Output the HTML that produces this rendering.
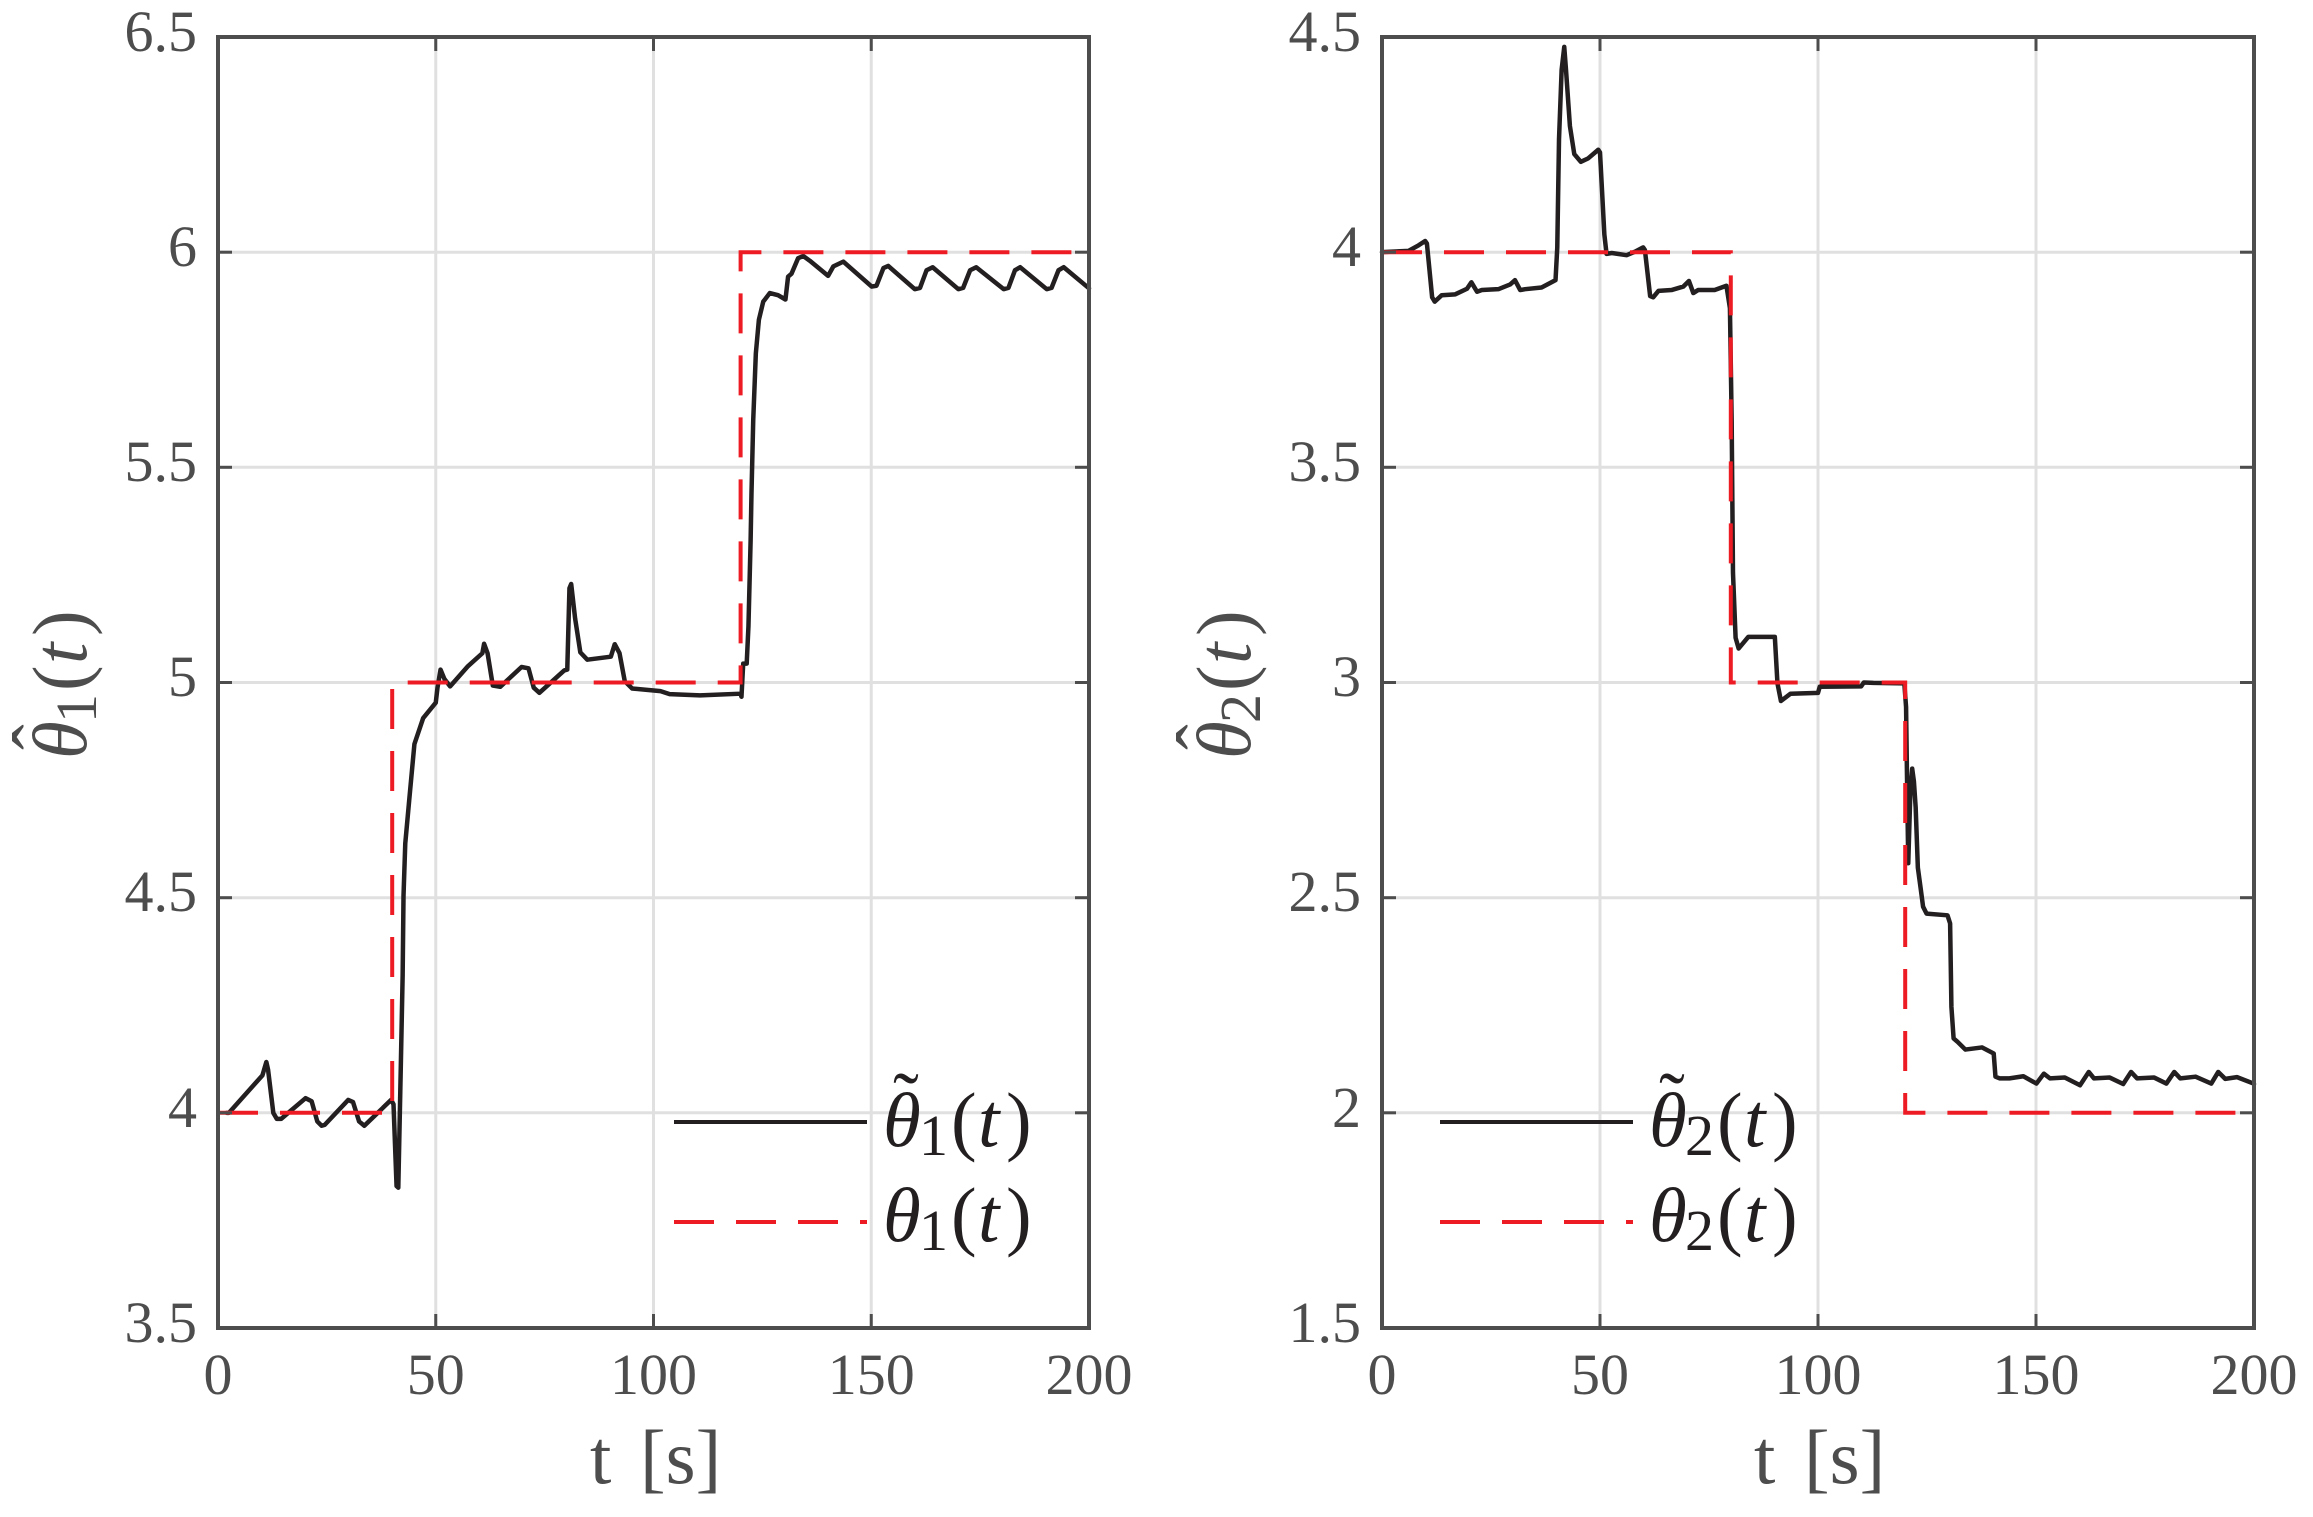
<!DOCTYPE html>
<html>
<head>
<meta charset="utf-8">
<style>
html,body{margin:0;padding:0;background:#fff;}
svg{display:block;}
text{font-family:"Liberation Serif","DejaVu Serif",serif;}
.tk{font-size:58px;fill:#4d4d4d;}
.lab{font-size:77px;fill:#4d4d4d;}
.leg{font-size:77px;fill:#231f20;}
.it{font-style:italic;}
</style>
</head>
<body>
<svg width="2313" height="1517" viewBox="0 0 2313 1517" xmlns="http://www.w3.org/2000/svg">
<rect width="2313" height="1517" fill="#fff"/>

<!-- ===== LEFT AXES ===== -->
<g stroke="#e0e0e0" stroke-width="3" fill="none">
  <line x1="435.75" y1="37" x2="435.75" y2="1328"/>
  <line x1="653.5" y1="37" x2="653.5" y2="1328"/>
  <line x1="871.25" y1="37" x2="871.25" y2="1328"/>
  <line x1="218" y1="252.2" x2="1089" y2="252.2"/>
  <line x1="218" y1="467.3" x2="1089" y2="467.3"/>
  <line x1="218" y1="682.5" x2="1089" y2="682.5"/>
  <line x1="218" y1="897.7" x2="1089" y2="897.7"/>
  <line x1="218" y1="1112.8" x2="1089" y2="1112.8"/>
</g>

<g transform="translate(218,1328) scale(4.355,-430.333) translate(0,-3.5)">
<polyline fill="none" stroke="#231f20" stroke-width="4.5" stroke-linejoin="round" stroke-linecap="round" vector-effect="non-scaling-stroke" points="
2,4.0 2.5,4.0 10.2,4.087 11.1,4.118 11.5,4.10 12.7,4.0 13.5,3.986 14.5,3.986 20.1,4.034 21.5,4.027 22.8,3.98 23.8,3.97 24.5,3.972
29.9,4.03 31,4.025 32.4,3.98 33.6,3.97 39.75,4.03 40.3,4.02 41,3.83 41.4,3.826 42,4.12 42.4,4.32 42.6,4.505 43,4.626 43.9,4.726
45.1,4.857 47.1,4.917 50,4.953 50.4,4.988 51.1,5.03 52,5.008 53.3,4.991 57.4,5.038 60.7,5.068 61.1,5.09 61.9,5.068 63.1,4.993
64.8,4.99 69.7,5.036 71.3,5.033 72.5,4.988 73.8,4.976 79.5,5.028 80.2,5.03 80.7,5.219 81.1,5.229 82,5.149 83.2,5.07 84.8,5.053
90.2,5.06 91.1,5.089 92.2,5.068 93.4,5.003 95.1,4.986 101.6,4.98 103.7,4.973 110.7,4.97 120.0,4.974 120.2,4.967 120.6,5.044
121.4,5.044 121.8,5.13 122.3,5.33 122.5,5.44 122.9,5.61 123.5,5.765 124.2,5.843 125.2,5.885 126.7,5.905 128.6,5.9 130.3,5.89
130.9,5.943 131.7,5.95 133.2,5.986 134.4,5.991 135.9,5.98 140.1,5.945 141.3,5.967 143.6,5.978 150.1,5.92 151.2,5.922 152.8,5.963
153.9,5.968 160,5.914 161.2,5.917 162.7,5.958 164.1,5.965 170,5.914 171.1,5.917 172.7,5.958 174.1,5.965 180.4,5.914 181.5,5.917
183,5.958 184.2,5.965 190.3,5.914 191.4,5.917 193,5.958 194.2,5.965 200,5.916"/>
</g>
<polyline fill="none" stroke="#ed1c24" stroke-width="4" stroke-dasharray="40 22" points="218,1112.8 392.2,1112.8 392.2,682.5 740.6,682.5 740.6,252.2 1089,252.2"/>

<!-- ticks left -->
<g stroke="#4d4d4d" stroke-width="3">
  <line x1="435.75" y1="1328" x2="435.75" y2="1314"/><line x1="653.5" y1="1328" x2="653.5" y2="1314"/><line x1="871.25" y1="1328" x2="871.25" y2="1314"/>
  <line x1="435.75" y1="37" x2="435.75" y2="51"/><line x1="653.5" y1="37" x2="653.5" y2="51"/><line x1="871.25" y1="37" x2="871.25" y2="51"/>
  <line x1="218" y1="252.2" x2="232" y2="252.2"/><line x1="218" y1="467.3" x2="232" y2="467.3"/><line x1="218" y1="682.5" x2="232" y2="682.5"/><line x1="218" y1="897.7" x2="232" y2="897.7"/><line x1="218" y1="1112.8" x2="232" y2="1112.8"/>
  <line x1="1089" y1="252.2" x2="1075" y2="252.2"/><line x1="1089" y1="467.3" x2="1075" y2="467.3"/><line x1="1089" y1="682.5" x2="1075" y2="682.5"/><line x1="1089" y1="897.7" x2="1075" y2="897.7"/><line x1="1089" y1="1112.8" x2="1075" y2="1112.8"/>
</g>
<rect x="218" y="37" width="871" height="1291" fill="none" stroke="#4d4d4d" stroke-width="4"/>

<!-- y tick labels left -->
<g class="tk" text-anchor="end">
  <text x="197" y="51">6.5</text>
  <text x="197" y="266">6</text>
  <text x="197" y="481">5.5</text>
  <text x="197" y="696">5</text>
  <text x="197" y="911">4.5</text>
  <text x="197" y="1127">4</text>
  <text x="197" y="1342">3.5</text>
</g>
<g class="tk" text-anchor="middle">
  <text x="218" y="1394">0</text>
  <text x="435.75" y="1394">50</text>
  <text x="653.5" y="1394">100</text>
  <text x="871.25" y="1394">150</text>
  <text x="1089" y="1394">200</text>
</g>
<text class="lab" x="590" y="1483">t</text>
<text class="lab" x="640" y="1483">[s]</text>

<!-- ylabel left -->
<g transform="translate(86,757) rotate(-90)" class="lab">
  <text class="it" x="-2" y="0">θ</text>
  <text x="20" y="-20" text-anchor="middle">ˆ</text>
  <text x="34" y="10" style="font-size:58px">1</text>
  <text x="66" y="0">(</text>
  <text class="it" x="93" y="0">t</text>
  <text x="121" y="0">)</text>
</g>

<!-- legend left -->
<line x1="674" y1="1122" x2="867" y2="1122" stroke="#231f20" stroke-width="4"/>
<line x1="674" y1="1222" x2="867" y2="1222" stroke="#ed1c24" stroke-width="4" stroke-dasharray="40 22"/>
<g class="leg">
  <text class="it" x="883" y="1146">θ</text>
  <text x="906" y="1126" text-anchor="middle">˜</text>
  <text x="919" y="1155" style="font-size:58px">1</text>
  <text x="951" y="1146">(</text>
  <text class="it" x="978" y="1146">t</text>
  <text x="1006" y="1146">)</text>

  <text class="it" x="883" y="1241">θ</text>
  <text x="919" y="1250" style="font-size:58px">1</text>
  <text x="951" y="1241">(</text>
  <text class="it" x="978" y="1241">t</text>
  <text x="1006" y="1241">)</text>
</g>

<!-- ===== RIGHT AXES ===== -->
<g stroke="#e0e0e0" stroke-width="3" fill="none">
  <line x1="1600" y1="37" x2="1600" y2="1328"/>
  <line x1="1818" y1="37" x2="1818" y2="1328"/>
  <line x1="2036" y1="37" x2="2036" y2="1328"/>
  <line x1="1382" y1="252.2" x2="2254" y2="252.2"/>
  <line x1="1382" y1="467.3" x2="2254" y2="467.3"/>
  <line x1="1382" y1="682.5" x2="2254" y2="682.5"/>
  <line x1="1382" y1="897.7" x2="2254" y2="897.7"/>
  <line x1="1382" y1="1112.8" x2="2254" y2="1112.8"/>
</g>

<g transform="translate(1382,1328) scale(4.36,-430.333) translate(0,-1.5)">
<polyline fill="none" stroke="#231f20" stroke-width="4.5" stroke-linejoin="round" stroke-linecap="round" vector-effect="non-scaling-stroke" points="
0,4.0 6.1,4.003 8.4,4.016 9.9,4.026 10.3,4.02 11.5,3.895 12.1,3.885 13.7,3.9 16.8,3.902 19.5,3.915 20.5,3.93 21.8,3.908 22.9,3.912
26.7,3.914 29.4,3.925 30.5,3.935 31.7,3.912 32.8,3.914 36.6,3.918 39.8,3.935 40.2,4.011 40.6,4.263 41.2,4.424 41.8,4.477 42.2,4.424
43.1,4.293 44.1,4.228 45.6,4.21 47.3,4.218 49.6,4.238 50,4.232 51,4.041 51.5,3.996 52.7,3.998 56.1,3.993 58,4.001 59.9,4.011
60.3,4.005 61.5,3.898 62.2,3.895 63.4,3.91 66.4,3.912 69.1,3.92 70.4,3.933 71.4,3.905 72.5,3.912 76.3,3.912 79,3.922 79.8,3.87
80.2,3.608 80.5,3.255 81.1,3.104 81.8,3.079 84,3.106 90.1,3.106 90.7,2.998 91.5,2.957 93.7,2.974 100,2.976 100.4,2.99 109.9,2.991
110.5,3.0 112.7,2.999 119.8,2.998 120.2,2.943 120.4,2.79 120.7,2.58 121.2,2.75 121.6,2.8 122,2.77 122.4,2.71 122.9,2.57 123.5,2.525
124.1,2.479 124.9,2.463 129.7,2.459 130.3,2.44 130.6,2.246 131.1,2.173 132,2.165 133.8,2.147 137.6,2.152 140.3,2.138 140.7,2.084
141.7,2.08 143.9,2.08 147.1,2.085 150.1,2.068 151.8,2.091 153.2,2.08 156.6,2.082 160.1,2.064 162.1,2.095 163.3,2.08 166.9,2.082
170,2.067 171.8,2.095 173.2,2.08 177.1,2.082 179.9,2.068 181.7,2.095 183.1,2.08 186.6,2.084 190.2,2.068 191.8,2.095 193.4,2.079
196.1,2.083 199.9,2.068 200,2.067"/>
</g>
<polyline fill="none" stroke="#ed1c24" stroke-width="4" stroke-dasharray="40 22" points="1382,252.2 1730.8,252.2 1730.8,682.5 1905.2,682.5 1905.2,1112.8 2254,1112.8"/>

<!-- ticks right -->
<g stroke="#4d4d4d" stroke-width="3">
  <line x1="1600" y1="1328" x2="1600" y2="1314"/><line x1="1818" y1="1328" x2="1818" y2="1314"/><line x1="2036" y1="1328" x2="2036" y2="1314"/>
  <line x1="1600" y1="37" x2="1600" y2="51"/><line x1="1818" y1="37" x2="1818" y2="51"/><line x1="2036" y1="37" x2="2036" y2="51"/>
  <line x1="1382" y1="252.2" x2="1396" y2="252.2"/><line x1="1382" y1="467.3" x2="1396" y2="467.3"/><line x1="1382" y1="682.5" x2="1396" y2="682.5"/><line x1="1382" y1="897.7" x2="1396" y2="897.7"/><line x1="1382" y1="1112.8" x2="1396" y2="1112.8"/>
  <line x1="2254" y1="252.2" x2="2240" y2="252.2"/><line x1="2254" y1="467.3" x2="2240" y2="467.3"/><line x1="2254" y1="682.5" x2="2240" y2="682.5"/><line x1="2254" y1="897.7" x2="2240" y2="897.7"/><line x1="2254" y1="1112.8" x2="2240" y2="1112.8"/>
</g>
<rect x="1382" y="37" width="872" height="1291" fill="none" stroke="#4d4d4d" stroke-width="4"/>

<g class="tk" text-anchor="end">
  <text x="1361" y="51">4.5</text>
  <text x="1361" y="266">4</text>
  <text x="1361" y="481">3.5</text>
  <text x="1361" y="696">3</text>
  <text x="1361" y="911">2.5</text>
  <text x="1361" y="1127">2</text>
  <text x="1361" y="1342">1.5</text>
</g>
<g class="tk" text-anchor="middle">
  <text x="1382" y="1394">0</text>
  <text x="1600" y="1394">50</text>
  <text x="1818" y="1394">100</text>
  <text x="2036" y="1394">150</text>
  <text x="2254" y="1394">200</text>
</g>
<text class="lab" x="1754" y="1483">t</text>
<text class="lab" x="1804" y="1483">[s]</text>

<g transform="translate(1250,757) rotate(-90)" class="lab">
  <text class="it" x="-2" y="0">θ</text>
  <text x="20" y="-20" text-anchor="middle">ˆ</text>
  <text x="34" y="10" style="font-size:58px">2</text>
  <text x="66" y="0">(</text>
  <text class="it" x="93" y="0">t</text>
  <text x="121" y="0">)</text>
</g>

<line x1="1440" y1="1122" x2="1633" y2="1122" stroke="#231f20" stroke-width="4"/>
<line x1="1440" y1="1222" x2="1633" y2="1222" stroke="#ed1c24" stroke-width="4" stroke-dasharray="40 22"/>
<g class="leg">
  <text class="it" x="1649" y="1146">θ</text>
  <text x="1672" y="1126" text-anchor="middle">˜</text>
  <text x="1685" y="1155" style="font-size:58px">2</text>
  <text x="1717" y="1146">(</text>
  <text class="it" x="1744" y="1146">t</text>
  <text x="1772" y="1146">)</text>

  <text class="it" x="1649" y="1241">θ</text>
  <text x="1685" y="1250" style="font-size:58px">2</text>
  <text x="1717" y="1241">(</text>
  <text class="it" x="1744" y="1241">t</text>
  <text x="1772" y="1241">)</text>
</g>
</svg>
</body>
</html>
